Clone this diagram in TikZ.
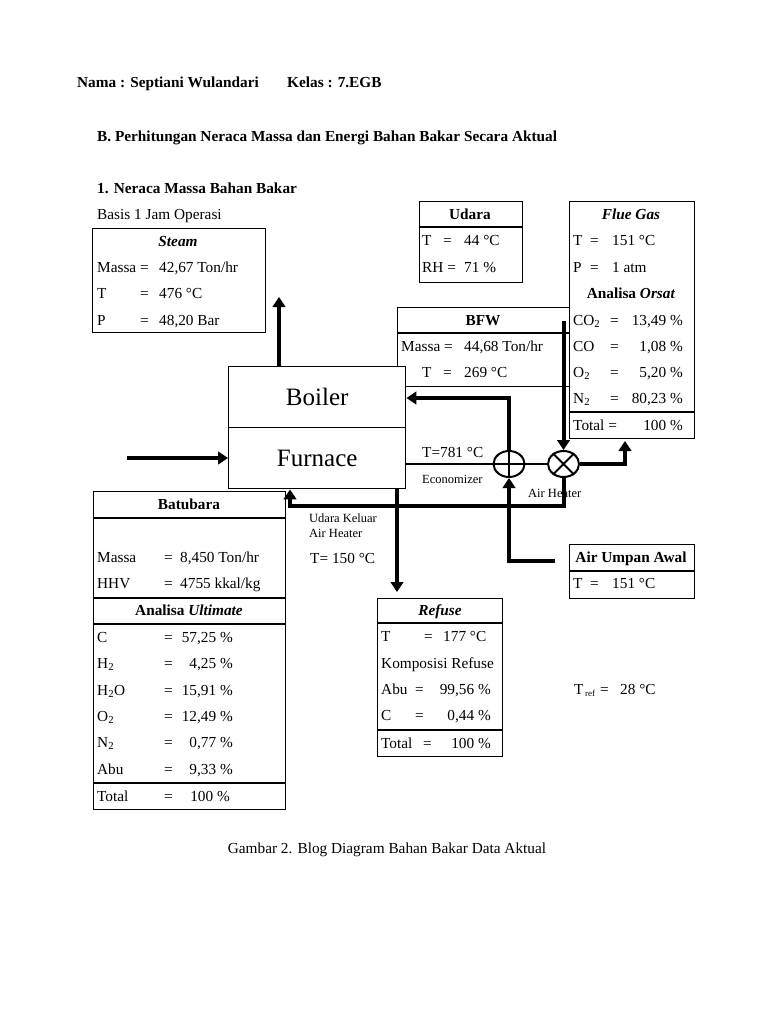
\documentclass[tikz,border=0pt]{standalone}
\usepackage{fontspec}
\setmainfont{Liberation Serif}
\usetikzlibrary{arrows.meta,shapes.geometric,calc}

\begin{document}
\begin{tikzpicture}[x=1pt,y=-1pt,
  txt/.style={font=\fontsize{15.3}{18}\selectfont, inner sep=0pt, anchor=base west},
  txtc/.style={txt, anchor=base},
  txtr/.style={txt, anchor=base east},
  sml/.style={font=\fontsize{12.5}{14}\selectfont, inner sep=0pt, anchor=base west},
  tbl/.style={draw, line width=1.2pt, fill=white, anchor=north west, inner sep=0pt},
  rule/.style={line width=1.2pt},
  unit/.style={draw, line width=1.4pt, fill=white, inner sep=0pt, anchor=north west,
    minimum width=177pt, minimum height=61pt, font=\fontsize{25}{28}\selectfont},
  flow/.style={line width=4pt, -{Triangle[length=10pt,width=12.5pt]}},
  pipe/.style={line width=2.2pt},
  hx/.style={draw, ellipse, line width=2pt, minimum width=31pt, minimum height=26pt, inner sep=0pt, fill=white}
]
\fill[white] (0,0) rectangle (768,1024);
\useasboundingbox (0,0) rectangle (768,1024);

% ---------- header ----------
\node[txt] (nama) at (77,88) {\textbf{Nama : Septiani Wulandari}};
\node[txt] (kelas) at (287,88) {\textbf{Kelas : 7.EGB}};
\node[txt] (secB) at (97,142) {\textbf{B. Perhitungan Neraca Massa dan Energi Bahan Bakar Secara Aktual}};
\node[txt] (sec1) at (97,194) {\textbf{1. Neraca Massa Bahan Bakar}};
\node[txt] (basis) at (97,219) {Basis 1 Jam Operasi};

% ---------- boxes ----------
\node[tbl, minimum width=173pt, minimum height=104pt] (steam) at (92,228) {};
\node[tbl, minimum width=103pt, minimum height=81pt] (udara) at (419,201) {};
\draw[rule] (udara.west |- 0,227) -- (udara.east |- 0,227);
\node[tbl, minimum width=172pt, minimum height=79pt] (bfw) at (397,307) {};
\draw[rule] (bfw.west |- 0,333) -- (bfw.east |- 0,333);
\node[unit] (boiler) at (228,366) {Boiler};
\node[unit] (furnace) at (228,427) {Furnace};
\node[tbl, minimum width=125pt, minimum height=237pt] (flue) at (569,201) {};
\draw[rule] (flue.west |- 0,412) -- (flue.east |- 0,412);
\node[tbl, minimum width=192pt, minimum height=318pt] (coal) at (93,491) {};
\foreach \yy in {518,598,624,783} \draw[rule] (coal.west |- 0,\yy) -- (coal.east |- 0,\yy);
\node[tbl, minimum width=125pt, minimum height=158pt] (refuse) at (377,598) {};
\foreach \yy in {623,730} \draw[rule] (refuse.west |- 0,\yy) -- (refuse.east |- 0,\yy);
\node[tbl, minimum width=125pt, minimum height=54pt] (aua) at (569,544) {};
\draw[rule] (aua.west |- 0,571) -- (aua.east |- 0,571);

% ---------- heat exchangers ----------
\node[hx] (eco) at (509,464) {};
\node[hx] (ah) at (563.5,464) {};
\draw[line width=1.8pt] (eco.north) -- (eco.south) (eco.west) -- (eco.east);
\draw[line width=1.8pt] (ah.45) -- (ah.225) (ah.135) -- (ah.315);

% ---------- coordinates ----------
\coordinate (steamout) at (279,297);
\coordinate (coalin) at (127,458);
\coordinate (fgin) at (625,441);
\coordinate (udin) at (563.5,321);
\coordinate (ret) at (290,506);
\coordinate (auastart) at (555,561);
\coordinate (refin) at (397,592);

% ---------- connectors ----------
\draw[flow] (boiler.north -| steamout) -- (steamout);
\draw[flow] (coalin) -- (furnace.west |- coalin);
\draw[pipe] (furnace.east |- eco.west) -- (eco.west);
\draw[pipe] (eco.east) -- (ah.west);
\draw[flow] (ah.east) -| (fgin);
\draw[flow] (udin) -- (ah.north);
\draw[flow] (ah.south) |- (ret) -- (furnace.south -| ret);
\draw[flow] (auastart) -| (eco.south);
\draw[flow] (eco.north) |- (boiler.east |- 0,398);
\draw[flow] (furnace.south -| refin) -- (refin);

% ---------- Steam ----------
\node[txtc] (sth) at (178,246) {\textbf{\textit{Steam}}};
\node[txt] (s1a) at (97,272) {Massa =};
\node[txt] (s1b) at (159,272) {42,67 Ton/hr};
\node[txt] (s2a) at (97,298) {T};
\node[txt] (s2e) at (140,298) {=};
\node[txt] (s2b) at (159,298) {476 °C};
\node[txt] (s3a) at (97,325) {P};
\node[txt] (s3e) at (140,325) {=};
\node[txt] (s3b) at (159,325) {48,20 Bar};

% ---------- Udara ----------
\node[txtc] (uh) at (470,219) {\textbf{Udara}};
\node[txt] (u1a) at (422,245) {T};
\node[txt] (u1e) at (443,245) {=};
\node[txt] (u1b) at (464,245) {44 °C};
\node[txt] (u2a) at (422,272) {RH =};
\node[txt] (u2b) at (464,272) {71 \%};

% ---------- Flue gas ----------
\node[txtc] (fh) at (631,219) {\textbf{\textit{Flue Gas}}};
\node[txt] (f1a) at (573,245) {T};
\node[txt] (f1e) at (590,245) {=};
\node[txt] (f1b) at (612,245) {151 °C};
\node[txt] (f2a) at (573,272) {P};
\node[txt] (f2e) at (590,272) {=};
\node[txt] (f2b) at (612,272) {1 atm};
\node[txtc] (fo) at (631,298) {\textbf{Analisa \textit{Orsat}}};
\node[txt] (f3a) at (573,325) {CO\textsubscript{2}};
\node[txt] (f3e) at (610,325) {=};
\node[txtr] (f3b) at (683,325) {13,49 \%};
\node[txt] (f4a) at (573,351) {CO};
\node[txt] (f4e) at (610,351) {=};
\node[txtr] (f4b) at (683,351) {1,08 \%};
\node[txt] (f5a) at (573,377) {O\textsubscript{2}};
\node[txt] (f5e) at (610,377) {=};
\node[txtr] (f5b) at (683,377) {5,20 \%};
\node[txt] (f6a) at (573,403) {N\textsubscript{2}};
\node[txt] (f6e) at (610,403) {=};
\node[txtr] (f6b) at (683,403) {80,23 \%};
\node[txt] (f7a) at (573,430) {Total =};
\node[txtr] (f7b) at (683,430) {100 \%};

% ---------- BFW ----------
\node[txtc] (bh) at (483,325) {\textbf{BFW}};
\node[txt] (b1a) at (401,351) {Massa =};
\node[txt] (b1b) at (464,351) {44,68 Ton/hr};
\node[txt] (b2a) at (422,377) {T};
\node[txt] (b2e) at (443,377) {=};
\node[txt] (b2b) at (464,377) {269 °C};

% ---------- Batubara ----------
\node[txtc] (ch) at (189,509) {\textbf{Batubara}};
\node[txt] (c1a) at (97,562) {Massa};
\node[txt] (c1e) at (164,562) {=};
\node[txt] (c1b) at (180,562) {8,450 Ton/hr};
\node[txt] (c2a) at (97,588) {HHV};
\node[txt] (c2e) at (164,588) {=};
\node[txt] (c2b) at (180,588) {4755 kkal/kg};
\node[txtc] (cu) at (189,615) {\textbf{Analisa \textit{Ultimate}}};
\node[txt] (c3a) at (97,642) {C};
\node[txt] (c3e) at (164,642) {=};
\node[txtr] (c3b) at (233,642) {57,25 \%};
\node[txt] (c4a) at (97,668) {H\textsubscript{2}};
\node[txt] (c4e) at (164,668) {=};
\node[txtr] (c4b) at (233,668) {4,25 \%};
\node[txt] (c5a) at (97,695) {H\textsubscript{2}O};
\node[txt] (c5e) at (164,695) {=};
\node[txtr] (c5b) at (233,695) {15,91 \%};
\node[txt] (c6a) at (97,721) {O\textsubscript{2}};
\node[txt] (c6e) at (164,721) {=};
\node[txtr] (c6b) at (233,721) {12,49 \%};
\node[txt] (c7a) at (97,747) {N\textsubscript{2}};
\node[txt] (c7e) at (164,747) {=};
\node[txtr] (c7b) at (233,747) {0,77 \%};
\node[txt] (c8a) at (97,774) {Abu};
\node[txt] (c8e) at (164,774) {=};
\node[txtr] (c8b) at (233,774) {9,33 \%};
\node[txt] (c9a) at (97,801) {Total};
\node[txt] (c9e) at (164,801) {=};
\node[txtr] (c9b) at (230,801) {100 \%};

% ---------- Refuse ----------
\node[txtc] (rh) at (440,615) {\textbf{\textit{Refuse}}};
\node[txt] (r1a) at (381,641) {T};
\node[txt] (r1e) at (424,641) {=};
\node[txt] (r1b) at (443,641) {177 °C};
\node[txt] (r2a) at (381,668) {Komposisi Refuse};
\node[txt] (r3a) at (381,694) {Abu};
\node[txt] (r3e) at (415,694) {=};
\node[txtr] (r3b) at (491,694) {99,56 \%};
\node[txt] (r4a) at (381,720) {C};
\node[txt] (r4e) at (415,720) {=};
\node[txtr] (r4b) at (491,720) {0,44 \%};
\node[txt] (r5a) at (381,748) {Total};
\node[txt] (r5e) at (423,748) {=};
\node[txtr] (r5b) at (491,748) {100 \%};

% ---------- Air Umpan Awal ----------
\node[txtc] (ah1) at (631,562) {\textbf{Air Umpan Awal}};
\node[txt] (a1a) at (573,588) {T};
\node[txt] (a1e) at (590,588) {=};
\node[txt] (a1b) at (612,588) {151 °C};

% ---------- free labels ----------
\node[txt] (t781) at (422,457) {T=781 °C};
\node[sml] (econ) at (422,483) {Economizer};
\node[sml] (ahl) at (528,497) {Air Heater};
\node[sml] (uk1) at (309,522) {Udara Keluar};
\node[sml] (uk2) at (309,537) {Air Heater};
\node[txt] (t150) at (310,563) {T= 150 °C};
\node[txt] (tref) at (574,694) {T};
\node[font=\fontsize{9}{10}\selectfont, inner sep=0pt, anchor=base west] (refsub) at (585,696) {ref};
\node[txt] (trefe) at (600,694) {=};
\node[txt] (trefv) at (620,694) {28 °C};

\node[txtc] (cap) at (387,853) {Gambar 2. Blog Diagram Bahan Bakar Data Aktual};
\end{tikzpicture}
\end{document}
